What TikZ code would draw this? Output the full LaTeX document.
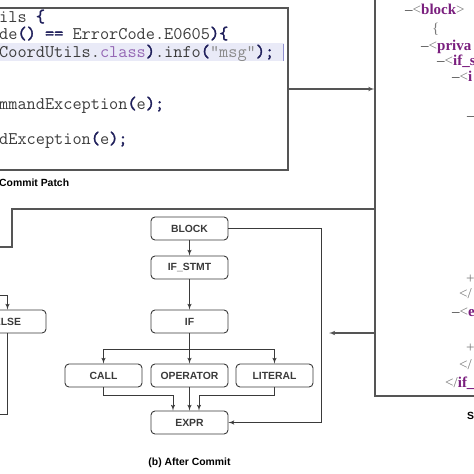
\documentclass[tikz,border=0pt]{standalone}
\usepackage{fontspec}
\setsansfont{Liberation Sans}
\newfontfamily\codefont{Latin Modern Mono}[BoldFont={Latin Modern Mono},BoldFeatures={FakeBold=2}]
\newfontfamily\xmlfont{Liberation Serif}
\usetikzlibrary{arrows}
\definecolor{codegray}{HTML}{3C3C3C}
\definecolor{codenavy}{HTML}{1E1E5A}
\definecolor{codekey}{HTML}{9467B4}
\definecolor{codestr}{HTML}{8A8A8A}
\definecolor{codehl}{HTML}{E9EAF7}
\definecolor{cursorc}{HTML}{9090D0}
\definecolor{tagpurple}{HTML}{7A1F7E}
\definecolor{taggray}{HTML}{7A7A7A}
\definecolor{linegray}{HTML}{555555}
\definecolor{boxgray}{HTML}{3A3A3A}
\newcommand{\pn}[1]{\textcolor{codenavy}{\bfseries #1}}
\newcommand{\tg}[1]{\textcolor{tagpurple}{\bfseries #1}}
\newcommand{\br}[1]{\textcolor{taggray}{#1}}

\begin{document}
\begin{tikzpicture}[x=1pt,y=-1pt]
\tikzset{tnode/.style = {shape=rectangle,draw=boxgray,line width=0.9pt,rounded corners=4pt,
  minimum width=77,minimum height=23,inner sep=0,text=boxgray,
  font=\sffamily\bfseries\fontsize{10.4}{12}\selectfont}}
\tikzset{edge/.style = {->,> = latex',line width=1pt,draw=boxgray}}
\tikzset{panel/.style = {shape=rectangle,draw=linegray,line width=1.1pt,inner sep=0}}
\tikzset{codeline/.style = {anchor=base west,inner sep=0,text=codegray,
  font=\codefont\fontsize{17.8}{19}\selectfont}}
\tikzset{xmlline/.style = {anchor=base west,inner sep=0,text=boxgray,
  font=\xmlfont\fontsize{15}{17}\selectfont}}
\tikzset{caption/.style = {inner sep=0,text=black,
  font=\sffamily\bfseries\fontsize{10.4}{12}\selectfont}}
\useasboundingbox (0,0) rectangle (474,474);
\clip (0,0) rectangle (474,474);

% commit patch
\fill[codehl] (-5,43) rectangle (284,61);
\draw[cursorc, line width=1pt] (283,44) -- (283,61);
\node[panel, minimum width=293, minimum height=162] (patch) at (141.5,89) {};
\node[codeline] (c1) at (-1,22) {ils \pn{\{}};
\node[codeline] (c2) at (-1,39) {de\pn{()} \pn{==} ErrorCode.E0605\pn{)\{}};
\node[codeline] (c3) at (-1,57) {CoordUtils.\textcolor{codekey}{class}\pn{)}.info\pn{(}\textcolor{codestr}{"msg"}\pn{);}};
\node[codeline] (c4) at (-1,109) {mmandException\pn{(}e\pn{);}};
\node[codeline] (c5) at (-1,144) {dException\pn{(}e\pn{);}};
\node[caption, anchor=base west] (capa) at (-1,186) {Commit Patch};

% xml tree
\node[panel, minimum width=105, minimum height=401] (xml) at (427.5,195.5) {};
\node[xmlline] (x1) at (405,14) {–\br{<}\tg{block}\br{>}};
\node[xmlline] (x2) at (432,33) {\br{\{}};
\node[xmlline] (x3) at (421,50) {–\br{<}\tg{priva}};
\node[xmlline] (x4) at (437,65) {–\br{<}\tg{if\_s}};
\node[xmlline] (x5) at (452,81) {–\br{<}\tg{i}};
\node[xmlline] (x6) at (467,120) {–};
\node[xmlline] (x7) at (466,283) {\br{+}};
\node[xmlline] (x8) at (459,298) {\br{</}};
\node[xmlline] (x9) at (452,316) {–\br{<}\tg{e}};
\node[xmlline] (x10) at (466,352) {\br{+}};
\node[xmlline] (x11) at (459,369) {\br{</}};
\node[xmlline] (x12) at (445,387) {\br{</}\tg{if\_}};
\node[caption, anchor=base west] (capc) at (467,419) {S};

\coordinate (cut) at (12,209);
\coordinate (oldtree) at (-5,247);
\coordinate (newtree) at (329,333);
\draw[edge, draw=linegray, line width=1.1pt] (patch.east) -- (patch.east -| xml.west);
\draw[edge, draw=linegray, line width=1.1pt] (xml.west |- newtree) -- (newtree);
\draw[linegray, line width=1.1pt] (xml.west |- cut) -- (cut) |- (oldtree);

% before commit (cut off)
\node[tnode] (else) at (7.5,321.5) {ELSE};
\coordinate (oldif) at (-5,295);
\coordinate (oldexpr) at (-5,414.5);
\draw[edge] (oldif) -| (else.north);
\draw[boxgray, line width=1pt] (else.south) |- (oldexpr);

% after commit
\node[tnode] (block) at (189.5,228.5) {BLOCK};
\node[tnode] (ifstmt) at (189.5,267.5) {IF\_STMT};
\node[tnode] (if) at (189.5,321.5) {IF};
\node[tnode] (call) at (103.5,375.5) {CALL};
\node[tnode] (op) at (189.5,375.5) {OPERATOR};
\node[tnode] (lit) at (274.5,375.5) {LITERAL};
\node[tnode] (expr) at (189.5,422.5) {EXPR};
\coordinate (split) at (189.5,349);
\coordinate (merge) at (189.5,395);
\coordinate (bend) at (321,422.5);
\coordinate (in1) at ([xshift=-16.5]expr.north);
\coordinate (in3) at ([xshift=9.5]expr.north);

\draw[edge] (block) to (ifstmt);
\draw[edge] (ifstmt) to (if);
\draw[edge] (if) to (op);
\draw[edge] (if.south) -- (split) -| (call.north);
\draw[edge] (split) -| (lit.north);
\draw[edge] (op) to (expr);
\draw[edge] (call.south) |- (in1 |- merge) -- (in1);
\draw[edge] (lit.south) |- (in3 |- merge) -- (in3);
\draw[edge] (block.east) -| (bend) -- (expr.east);
\node[caption, anchor=base] (capb) at (189.5,465) {(b) After Commit};
\end{tikzpicture}
\end{document}
